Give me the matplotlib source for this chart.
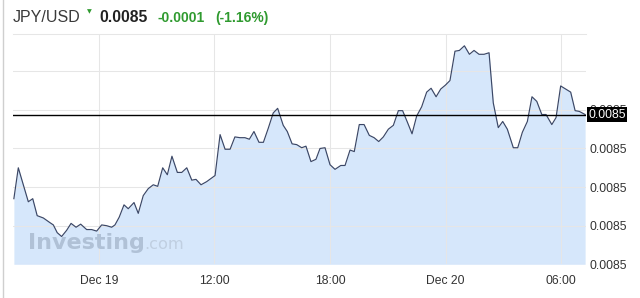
import numpy as np
import matplotlib
matplotlib.use('Agg')
import matplotlib.pyplot as plt
from matplotlib.lines import Line2D

plt.rcParams['font.family'] = ['Liberation Sans', 'DejaVu Sans']

# hours relative to Dec 19 00:00 (chart axis: 6 h per grid step)
hours = [-4.42, -4.19, -3.67, -3.44, -3.21, -2.89, -2.55, -2.37, -2.17, -1.94,
         -1.68, -1.45, -1.19, -0.95, -0.64, -0.38, -0.12, 0.14, 0.40, 0.66,
         0.83, 1.05, 1.30, 1.52, 1.82, 2.04, 2.30, 2.56, 2.82, 3.05,
         3.31, 3.55, 3.79, 4.07, 4.30, 4.56, 4.82, 5.04, 5.30, 5.59,
         6.03, 6.29, 6.55, 6.81, 7.06, 7.32, 7.58, 7.81, 8.05, 8.31,
         8.54, 8.79, 9.05, 9.28, 9.57, 9.78, 10.03, 10.27, 10.53, 10.75,
         11.01, 11.27, 11.48, 11.74, 12.00, 12.26, 12.56, 12.78, 13.04, 13.26,
         13.52, 13.77, 14.04, 14.29, 14.53, 14.77, 15.03, 15.29, 15.55, 15.77,
         16.02, 16.26, 16.50, 16.76, 17.02, 17.25, 17.51, 17.75, 17.99, 18.23,
         18.49, 18.72, 18.98, 19.24, 19.48, 19.74, 20.00, 20.26, 20.48, 20.74,
         20.97, 21.21, 21.52, 21.75, 21.99, 22.25, 22.49, 22.74, 23.00, 23.22,
         23.52, 23.74, 23.98, 24.24, 24.50, 24.73, 24.95, 25.25]

prices = [0.0084685, 0.0084725, 0.0084681, 0.0084685, 0.0084663, 0.0084660, 0.0084654, 0.0084651, 0.0084641, 0.0084636,
          0.0084644, 0.0084653, 0.0084648, 0.0084652, 0.0084645, 0.0084645, 0.0084643, 0.0084651, 0.0084650, 0.0084648,
          0.0084651, 0.0084661, 0.0084677, 0.0084672, 0.0084680, 0.0084666, 0.0084689, 0.0084698, 0.0084703, 0.0084701,
          0.0084725, 0.0084716, 0.0084740, 0.0084719, 0.0084719, 0.0084725, 0.0084709, 0.0084710, 0.0084703, 0.0084707,
          0.0084715, 0.0084768, 0.0084749, 0.0084749, 0.0084765, 0.0084764, 0.0084764, 0.0084762, 0.0084772, 0.0084758,
          0.0084758, 0.0084776, 0.0084796, 0.0084802, 0.0084780, 0.0084772, 0.0084756, 0.0084755, 0.0084751, 0.0084753,
          0.0084733, 0.0084736, 0.0084750, 0.0084751, 0.0084729, 0.0084723, 0.0084728, 0.0084728, 0.0084748, 0.0084746,
          0.0084781, 0.0084781, 0.0084767, 0.0084764, 0.0084759, 0.0084765, 0.0084775, 0.0084780, 0.0084799, 0.0084799,
          0.0084784, 0.0084769, 0.0084792, 0.0084804, 0.0084823, 0.0084828, 0.0084817, 0.0084827, 0.0084832, 0.0084838,
          0.0084876, 0.0084877, 0.0084883, 0.0084872, 0.0084877, 0.0084872, 0.0084872, 0.0084874, 0.0084809, 0.0084777,
          0.0084785, 0.0084775, 0.0084751, 0.0084751, 0.0084771, 0.0084785, 0.0084817, 0.0084811, 0.0084794, 0.0084794,
          0.0084781, 0.0084790, 0.0084831, 0.0084827, 0.0084823, 0.0084799, 0.0084798, 0.0084794]

current = 0.0084794
x_ticks = [0, 6, 12, 18, 24]
x_labels = ['Dec 19', '12:00', '18:00', 'Dec 20', '06:00']
y_ticks = [0.008460, 0.008465, 0.008470, 0.008475, 0.008480, 0.008485]

green = '#2f9a2f'
grid_c = '#e6e6e6'

fig = plt.figure(figsize=(6.4, 2.98), dpi=100)
ax = fig.add_axes([13.3 / 640, 33.7 / 298, 572.4 / 640, 230 / 298])

ax.fill_between(hours, prices, y_ticks[0], color='#d6e7fb', lw=0, zorder=1)
ax.plot(hours, prices, color='#3b4766', lw=0.85, zorder=3)
ax.axhline(current, color='black', lw=1.0, zorder=4)

ax.set_xlim(-4.45, 25.28)
ax.set_ylim(0.008460, 0.00848979)
ax.set_xticks(x_ticks)
ax.set_xticklabels(x_labels)
ax.set_yticks(y_ticks)
ax.set_yticklabels(['%.4f' % v if v < 0.008484 else '' for v in y_ticks])
ax.yaxis.tick_right()
ax.tick_params(axis='both', length=0, labelsize=8.7, colors='#333333')
ax.tick_params(axis='x', pad=8)
ax.tick_params(axis='y', pad=3)
for lbl in ax.get_yticklabels():
    lbl.set_y(lbl.get_position()[1])
ax.grid(True, color=grid_c, lw=0.75, zorder=1.5)
for s in ['left', 'right', 'bottom']:
    ax.spines[s].set_visible(False)
ax.spines['top'].set_color(grid_c)
ax.spines['top'].set_linewidth(0.75)

# current price box (sits over the 0.0085 tick label just above it, as in the original)
ax.annotate('0.0085', xy=(1.0, current), xycoords=('axes fraction', 'data'),
            xytext=(1.8, 0), textcoords='offset points', ha='left', va='center',
            fontsize=8.7, color='white', zorder=10, annotation_clip=False,
            bbox=dict(boxstyle='square,pad=0.12', fc='black', ec='none'))

# header
yb = 1 - 22 / 298
fig.text(13 / 640, yb, 'JPY/USD', fontsize=11.5, color='#3a3a3a', va='baseline')
fig.text(89 / 640, 1 - 11.5 / 298, '\u25bc', fontsize=4.5, color=green,
         ha='center', va='center', family='DejaVu Sans')
fig.text(99 / 640, yb, '0.0085', fontsize=11.3, fontweight='bold', color='#222222', va='baseline')
fig.text(157 / 640, yb, '-0.0001', fontsize=10, fontweight='bold', color=green, va='baseline')
fig.text(215 / 640, yb, '(-1.16%)', fontsize=10, fontweight='bold', color=green, va='baseline')

# watermark
fig.text(28 / 640, 1 - 249 / 298, 'Investing', fontsize=16, fontweight='bold',
         color='#b0c1d6', va='baseline', family='DejaVu Sans', zorder=0.5)
fig.text(144 / 640, 1 - 249 / 298, '.com', fontsize=11.7, color='#c0cfe1',
         va='baseline', family='DejaVu Sans', zorder=0.5)

fig.add_artist(Line2D([2.7 / 640, 2.7 / 640], [0, 1], color='#cfcfcf', lw=1))

fig.savefig('out.png', dpi=100)
